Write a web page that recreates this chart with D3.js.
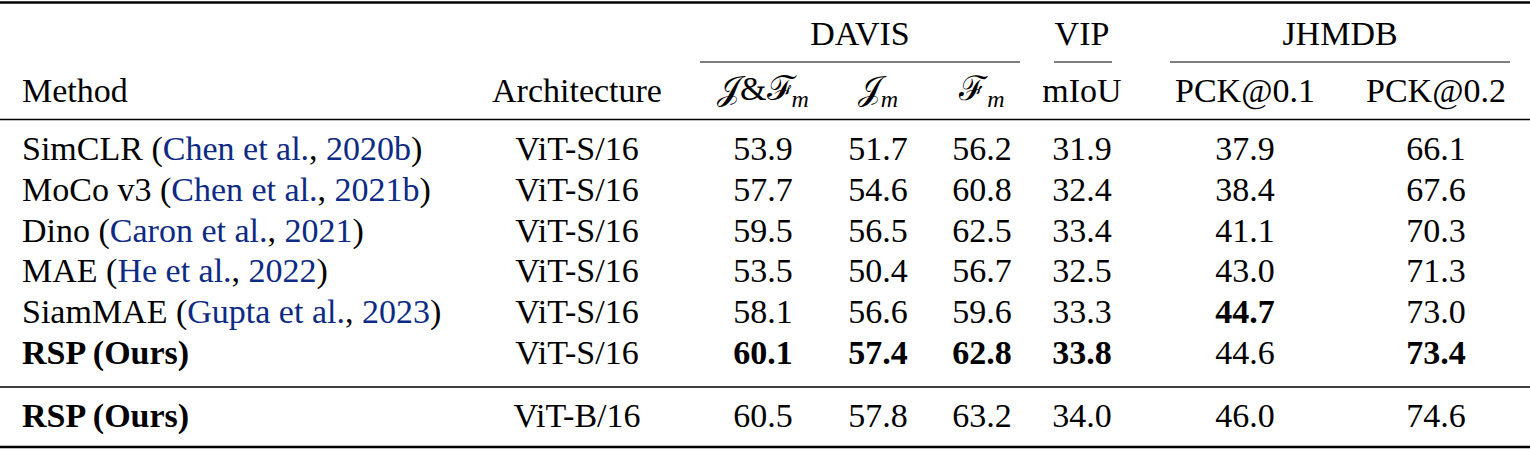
<!DOCTYPE html>
<html><head><meta charset="utf-8">
<script src="https://cdn.jsdelivr.net/npm/d3@7"></script>
<style>body{margin:0;background:#fff}svg{display:block}</style>
</head><body><svg id="c" width="1530" height="450"></svg>
<script>
const methods = ["SimCLR","MoCo v3","Dino","MAE","SiamMAE","RSP (Ours)","RSP (Ours)"];
const cites = [["Chen et al.","2020b"],["Chen et al.","2021b"],["Caron et al.","2021"],["He et al.","2022"],["Gupta et al.","2023"],null,null];
const archs = ["ViT-S/16","ViT-S/16","ViT-S/16","ViT-S/16","ViT-S/16","ViT-S/16","ViT-B/16"];
const jf = [53.9,57.7,59.5,53.5,58.1,60.1,60.5];
const jm = [51.7,54.6,56.5,50.4,56.6,57.4,57.8];
const fm = [56.2,60.8,62.5,56.7,59.6,62.8,63.2];
const miou = [31.9,32.4,33.4,32.5,33.3,33.8,34.0];
const pck1 = [37.9,38.4,41.1,43.0,44.7,44.6,46.0];
const pck2 = [66.1,67.6,70.3,71.3,73.0,73.4,74.6];
const bold = [[],[],[],[],["pck1"],["m","jf","jm","fm","miou","pck2"],["m"]];

const svg = d3.select("#c");
const F = "'Liberation Serif','Times New Roman',serif";
const fs = 34;
const y = d3.scaleLinear().domain([0,5]).range([148,352]);
const rowY = i => i<6 ? y(i) : 415;
const colX = {arch:577, jf:763, jm:878, fm:982, miou:1082, pck1:1245, pck2:1436};
const line = (x1,x2,yy,w) => svg.append("line").attr("x1",x1).attr("x2",x2).attr("y1",yy).attr("y2",yy).attr("stroke","#000").attr("stroke-width",w);
line(0,1530,2.5,2.5); line(0,1530,119.5,1.5); line(0,1530,387,1.5); line(0,1530,447,2.5);
line(700,1020,62,1.2); line(1054,1112,62,1.2); line(1170,1510,62,1.2);
const txt = (x,yy,s,anchor,opts={}) => svg.append("text").attr("x",x).attr("y",yy).attr("dy","0.35em")
  .attr("text-anchor",anchor).attr("font-family",F).attr("font-size",fs).attr("fill",opts.fill||"#000")
  .attr("font-weight",opts.bold?"bold":"normal").text(s);
txt(860,33,"DAVIS","middle"); txt(1082,33,"VIP","middle"); txt(1340,33,"JHMDB","middle");
txt(22,90,"Method","start"); txt(577,90,"Architecture","middle");
txt(colX.miou,90,"mIoU","middle"); txt(colX.pck1,90,"PCK@0.1","middle"); txt(colX.pck2,90,"PCK@0.2","middle");
function mathHdr(x, parts){
  const t = svg.append("text").attr("x",x).attr("y",88).attr("dy","0.35em").attr("text-anchor","middle")
    .attr("font-family",F).attr("font-size",fs);
  parts.forEach(p=>{const s=t.append("tspan").text(p[0]).attr("font-style",p[1]?"italic":"normal");
    if(p[2]) s.attr("font-size",24).attr("dy",7);});
}
mathHdr(colX.jf,[["𝒥",0],["&",0],["ℱ",0],["m",1,1]]);
mathHdr(colX.jm,[["𝒥",0],["m",1,1]]);
mathHdr(colX.fm,[["ℱ",0],["m",1,1]]);
const blue = "#0d2a84";
methods.forEach((m,i)=>{
  const yy = rowY(i);
  const t = svg.append("text").attr("x",22).attr("y",yy).attr("dy","0.35em").attr("font-family",F).attr("font-size",fs);
  t.append("tspan").text(m).attr("font-weight",bold[i].includes("m")?"bold":"normal");
  if(cites[i]){
    t.append("tspan").text(" (");
    t.append("tspan").text(cites[i][0]).attr("fill",blue);
    t.append("tspan").text(", ");
    t.append("tspan").text(cites[i][1]).attr("fill",blue);
    t.append("tspan").text(")");
  }
  txt(colX.arch,yy,archs[i],"middle");
  const vals = {jf,jm,fm,miou,pck1,pck2};
  Object.keys(vals).forEach(k=>txt(colX[k],yy,vals[k][i].toFixed(1),"middle",{bold:bold[i].includes(k)}));
});
</script></body></html>
